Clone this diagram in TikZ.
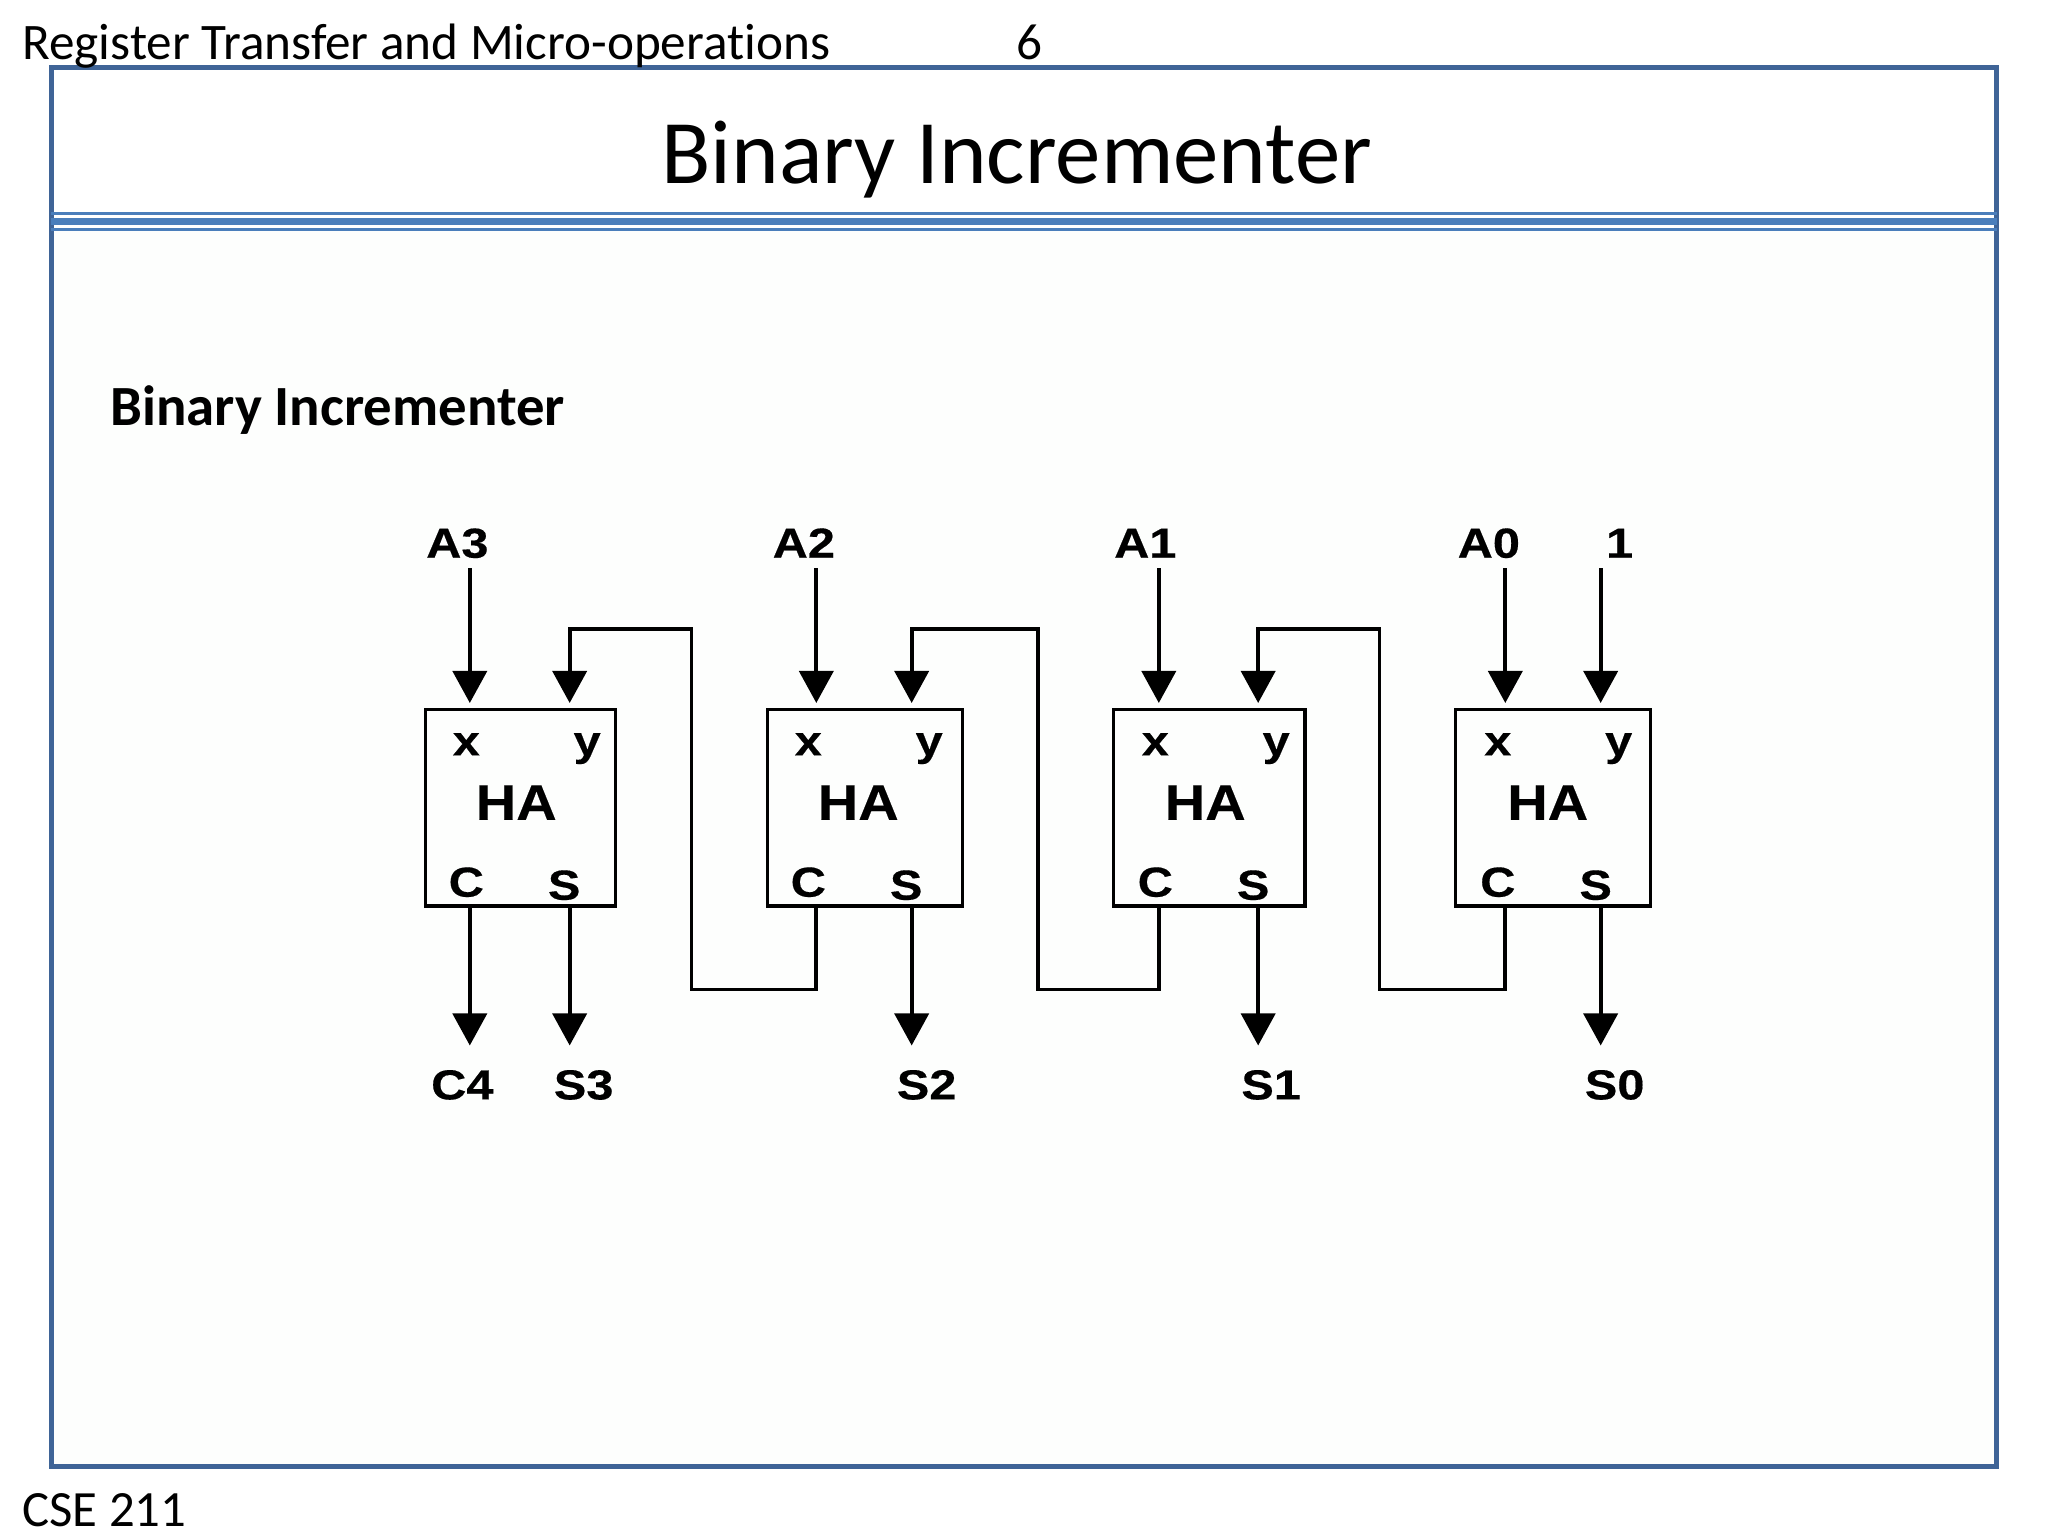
\documentclass[tikz,border=0pt]{standalone}
\usepackage{fontspec}
\setmainfont[Ligatures=NoCommon]{Carlito}
\newfontfamily\arialf[BoldFeatures={FakeBold=0.35}]{Liberation Sans}
\usetikzlibrary{arrows.meta}
\definecolor{framec}{HTML}{3F6497}
\definecolor{rulec}{HTML}{4A7EBB}
\definecolor{bodyc}{HTML}{FDFEFD}
\tikzset{
  slide/.style={draw=framec,line width=2.6pt},
  txt/.style={inner sep=0pt,anchor=base,text=black},
  lab/.style={txt,font=\arialf\bfseries\fontsize{21}{21}\selectfont,xscale=1.16,transform shape},
  halab/.style={txt,font=\arialf\bfseries\fontsize{25}{25}\selectfont,xscale=1.12,transform shape},
  ha/.style={draw=black,line width=1.7pt,anchor=north west,minimum height=98.2pt,inner sep=0pt},
  wire/.style={draw=black,line width=1.9pt},
  arr/.style={wire,-{Triangle[width=17pt,length=16pt]}},
}
\begin{document}
\begin{tikzpicture}[x=0.4993pt,y=-0.4993pt]
\useasboundingbox (0,0) rectangle (2051,1538.1);
\fill[white] (0,0) rectangle (2051,1538.1);
\fill[bodyc] (51,225) rectangle (2000,1469);
% frame
\draw[slide] (51.5,68) rectangle (1999,1469);
\fill[rulec] (51,212) rectangle (2000,215.5);
\fill[rulec] (51,218) rectangle (2000,225);
\fill[rulec] (51,228) rectangle (2000,231);
\fill[white] (54,215.5) rectangle (1997,218);
\fill[white] (54,225) rectangle (1997,228);
% boxes
\node[ha,minimum width=95pt] (ha3) at (424.5,709) {};
\node[ha,minimum width=97.5pt] (ha2) at (767,709) {};
\node[ha,minimum width=95.8pt] (ha1) at (1113.5,709) {};
\node[ha,minimum width=97.5pt] (ha0) at (1456,709) {};
% port labels
\foreach \n/\l in {ha3/425,ha2/767.5,ha1/1115,ha0/1458}{
  \node[lab] (\n x) at (\l+42,756.5) {x};
  \node[lab] (\n y) at (\l+163,756.5) {y};
  \node[halab] (\n t) at (\l+92,821) {HA};
  \node[lab] (\n c) at (\l+42,898) {C};
  \node[lab] (\n s) at (\l+140,901) {S};
}
% top labels
\node[lab] (A3) at (458,558.5) {A3};
\node[lab] (A2) at (805,558.5) {A2};
\node[lab] (A1) at (1147,558.5) {A1};
\node[lab] (A0) at (1491,558.5) {A0};
\node[lab] (one) at (1622,558.5) {1};
% bottom labels
\node[lab] (C4) at (463,1101) {C4};
\node[lab] (S3) at (584.5,1101) {S3};
\node[lab] (S2) at (928,1101) {S2};
\node[lab] (S1) at (1273,1101) {S1};
\node[lab] (S0) at (1617,1101) {S0};
% inputs
\foreach \n/\x in {in3/470.5,in2/817.5,in1/1160.5,in0/1507.5,inb/1603}{
  \coordinate (\n t) at (\x,569);
  \coordinate (\n h) at (\x,704);
  \draw[arr] (\n t) -- (\n h);
}
% outputs
\foreach \n/\x in {c4/470.5,s3/570.5,s2/913,s1/1260,s0/1603}{
  \coordinate (\n t) at (\x,907);
  \coordinate (\n h) at (\x,1047);
  \draw[arr] (\n t) -- (\n h);
}
% carry loops
\foreach \n/\a/\b/\c in {l3/570.5/692.5/817.5,l2/913/1039.5/1160.5,l1/1260/1381.5/1507.5}{
  \coordinate (\n h) at (\a,704);
  \coordinate (\n p) at (\a,630);
  \coordinate (\n q) at (\b,630);
  \coordinate (\n r) at (\b,991);
  \coordinate (\n s) at (\c,991);
  \coordinate (\n t) at (\c,907);
  \draw[arr] (\n t) -- (\n s) -- (\n r) -- (\n q) -- (\n p) -- (\n h);
}
% slide text
\node[txt,anchor=base west,font=\fontsize{25.6}{26}\selectfont] (hdr) at (22,60) {Register Transfer and Micro-operations};
\node[txt,font=\fontsize{25.6}{26}\selectfont] (pg) at (1031,60) {6};
\node[txt,font=\fontsize{45.4}{46}\selectfont] (title) at (1018,183.5) {Binary Incrementer};
\node[txt,anchor=base west,font=\bfseries\fontsize{28.4}{29}\selectfont] (sub) at (110,426.5) {Binary Incrementer};
\node[txt,anchor=base west,font=\fontsize{25.4}{26}\selectfont] (ftr) at (22,1528.5) {CSE 211};
\end{tikzpicture}
\end{document}
